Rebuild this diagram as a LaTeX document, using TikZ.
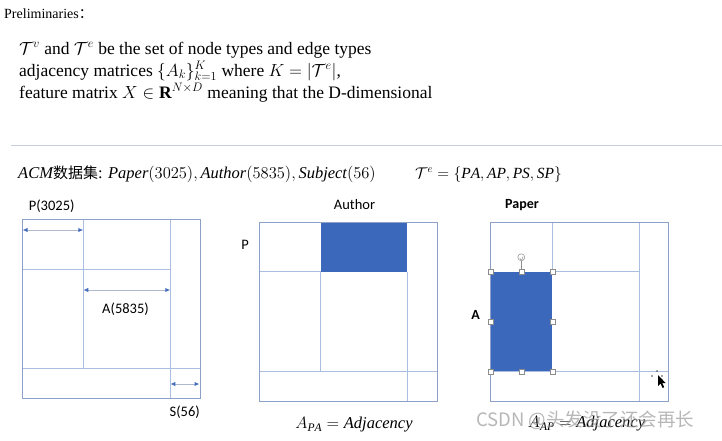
\documentclass[tikz,border=0pt]{standalone}
\usepackage{fix-cm}
\usepackage{fontspec}
\setmainfont{Liberation Serif}
\newfontfamily\cjkfont{Noto Sans CJK SC}
\newfontfamily\calibfont{Carlito}
\usetikzlibrary{arrows.meta}
\definecolor{outerln}{RGB}{140,160,200}
\definecolor{innerln}{RGB}{170,190,225}
\definecolor{arrblue}{RGB}{70,110,190}
\definecolor{arrshaft}{RGB}{175,185,205}
\definecolor{fillblue}{RGB}{60,104,188}
\definecolor{sepln}{RGB}{200,205,225}
\definecolor{handlegray}{RGB}{140,140,140}
\tikzset{
  outerbox/.style={draw=outerln, line width=0.9pt},
  innerline/.style={draw=innerln, line width=0.8pt},
  dimarrow/.style={draw=arrshaft, line width=1pt,
     {Latex[length=5pt,width=4.5pt,color=arrblue]}-{Latex[length=5pt,width=4.5pt,color=arrblue]}},
  lbl/.style={font=\calibfont\fontsize{14.5}{16}\selectfont, inner sep=0pt},
  lblb/.style={font=\calibfont\bfseries\fontsize{14}{16}\selectfont, inner sep=0pt},
  toptext/.style={font=\fontsize{17.5}{20}\selectfont, anchor=base west, inner sep=0pt},
  mathline/.style={font=\fontsize{16.5}{18}\selectfont, anchor=base west, inner sep=0pt},
  formula/.style={font=\fontsize{16.5}{18}\selectfont, inner sep=0pt},
  handle/.style={draw=handlegray, fill=white, line width=0.5pt, minimum size=5pt, inner sep=0pt, rectangle},
  bluefill/.style={fill=fillblue, draw=none}
}
\begin{document}
\begin{tikzpicture}[x=1pt,y=-1pt]
\useasboundingbox (0,0) rectangle (722,440);
\fill[white] (0,0) rectangle (722,440);

% ---------- top text ----------
\node[font=\fontsize{14}{16}\selectfont, anchor=base west, inner sep=0pt] (prelim) at (4,18.5) {Preliminaries{\cjkfont ：}};
\node[toptext] (l1) at (19,54) {$\mathcal{T}^v$ and $\mathcal{T}^e$ be the set of node types and edge types};
\node[toptext] (l2) at (19,76) {adjacency matrices $\{A_k\}_{k=1}^{K}$ where $K=|\mathcal{T}^e|$,};
\node[toptext] (l3) at (19,98) {feature matrix $X\in\mathbf{R}^{N\times D}$ meaning that the D-dimensional};

% separator
\coordinate (sepA) at (11,145.5);
\coordinate (sepB) at (722,145.5);
\draw[sepln, line width=1.6pt] (sepA) -- (sepB);

% ---------- second section ----------
\node[mathline] (acm) at (18,178) {$\mathit{ACM}${\cjkfont\fontsize{15}{16}\selectfont 数据集}: $\mathit{Paper}(3025),\mathit{Author}(5835),\mathit{Subject}(56)$};
\node[mathline, font=\fontsize{15.5}{18}\selectfont] (te) at (415,178) {$\mathcal{T}^e=\{\mathit{PA},\mathit{AP},\mathit{PS},\mathit{SP}\}$};

% ---------- left matrix ----------
\coordinate (La) at (22,219.3);
\coordinate (Lb) at (200,398);
\draw[innerline] (22,269.3) -- (170.3,269.3);
\draw[innerline] (22,368.3) -- (200,368.3);
\draw[innerline] (83.3,219.3) -- (83.3,368.3);
\draw[innerline] (170.3,219.3) -- (170.3,398);
\draw[outerbox] (La) rectangle (Lb);
\coordinate (ar1a) at (22.5,230);  \coordinate (ar1b) at (83.3,230);
\coordinate (ar2a) at (83.3,290);  \coordinate (ar2b) at (170.3,290);
\coordinate (ar3a) at (170.3,384); \coordinate (ar3b) at (199.5,384);
\draw[dimarrow] (ar1a) -- (ar1b);
\draw[dimarrow] (ar2a) -- (ar2b);
\draw[dimarrow] (ar3a) -- (ar3b);
\node[lbl] (p3025) at (51.7,206) {P(3025)};
\node[lbl] (a5835) at (125.5,309) {A(5835)};
\node[lbl] (s56) at (184.7,411.7) {S(56)};

% ---------- middle matrix ----------
\fill[bluefill] (320.7,222.3) rectangle (407.3,271.7);
\draw[innerline] (259.3,271.7) -- (320.7,271.7);
\draw[innerline] (259.3,371.7) -- (437.3,371.7);
\draw[innerline] (320.7,271.7) -- (320.7,371.7);
\draw[innerline] (407.3,271.7) -- (407.3,401.3);
\draw[outerbox] (259.3,222.3) rectangle (437.3,401.3);
\node[lbl] (author) at (354.5,205) {Author};
\node[lbl] (pm) at (245,245) {P};
\node[formula] (apa) at (354,425) {$A_{\mathit{PA}}=\mathit{Adjacency}$};

% ---------- right matrix ----------
\fill[bluefill] (490.3,271.7) rectangle (552.3,371.7);
\draw[innerline] (552.3,271.7) -- (639.3,271.7);
\draw[innerline] (490.3,371.7) -- (668.7,371.7);
\draw[innerline] (552.3,222.3) -- (552.3,271.7);
\draw[innerline] (639.3,222.3) -- (639.3,401.3);
\draw[outerbox] (490.3,222.3) rectangle (668.7,401.3);
\node[lblb] (paper) at (522,205) {Paper};
\node[lblb] (am) at (475.7,315) {A};

% selection handles
\node[circle, draw=handlegray, fill=white, line width=0.5pt, minimum size=7pt, inner sep=0pt] (rot) at (521.3,257.3) {};
\draw[handlegray, line width=0.4pt, ->, >={Stealth[length=1.2pt]}] ([shift={(-1.6,0.4)}]rot.center) arc[start angle=200, end angle=-60, radius=1.7];
\coordinate (topmid) at (521.3,271.7);
\draw[handlegray, line width=0.5pt] (rot.south) -- (topmid);
\foreach \hx/\hy in {490.3/271.7, 521.3/271.7, 552.3/271.7, 490.3/321.7, 552.3/321.7, 490.3/371.7, 521.3/371.7, 552.3/371.7}
  \node[handle] at (\hx,\hy) {};

% cursor
\fill[black] (658,375) -- (658,386) -- (660.6,383.6) -- (662.6,388) -- (664.2,387.2) -- (662.2,383) -- (665.6,383) -- cycle;
\foreach \dx/\dy in {0/-6, -5/-1, 5/-1}
  \fill[black!70] (657+\dx,377+\dy) circle (0.8);

% bottom right formula and watermark
\node[formula] (aap) at (586.5,424) {$A_{\mathit{AP}}=\mathit{Adjacency}$};
\node[font=\cjkfont\fontsize{18.5}{20}\selectfont, text=black!40, opacity=0.7, anchor=west, inner sep=0pt] (wm) at (476,420) {CSDN @头发没了还会再长};
\end{tikzpicture}
\end{document}
